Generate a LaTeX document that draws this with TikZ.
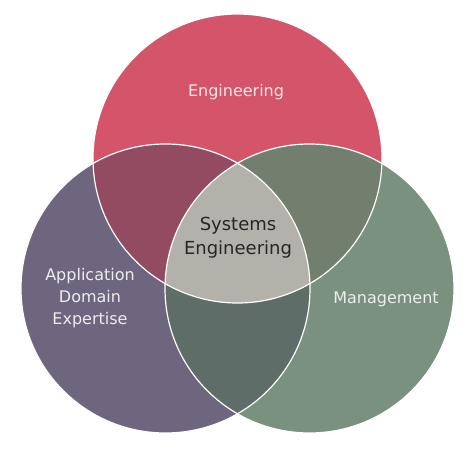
\documentclass[tikz,border=0pt]{standalone}
\usepackage{fontspec}
\setmainfont{DejaVu Sans}
\definecolor{engred}{HTML}{D45469}
\definecolor{apppurple}{HTML}{6D667E}
\definecolor{mgmtgreen}{HTML}{7A917F}
\definecolor{redpurple}{HTML}{934B62}
\definecolor{redgreen}{HTML}{727F6E}
\definecolor{purplegreen}{HTML}{5F6D69}
\definecolor{core}{HTML}{B3B2AA}
\tikzstyle{rim}=[draw=white, line width=1.2pt]
\tikzstyle{lbl}=[font=\fontsize{16}{22}\selectfont, align=center, inner sep=0]
\tikzstyle{corelbl}=[font=\fontsize{18}{24}\selectfont, align=center, inner sep=0, text=black!85]

\begin{document}
\begin{tikzpicture}[x=1pt,y=-1pt]
\useasboundingbox (0,0) rectangle (474,453);
\def\rad{144.5pt}
\coordinate (eng) at (237.5,158.5);
\coordinate (app) at (165.5,288.5);
\coordinate (mgmt) at (309.5,288.5);

\fill[engred] (eng) circle (\rad);
\fill[apppurple] (app) circle (\rad);
\fill[mgmtgreen] (mgmt) circle (\rad);
\begin{scope}
\clip (eng) circle (\rad);
\fill[redpurple] (app) circle (\rad);
\fill[redgreen] (mgmt) circle (\rad);
\end{scope}
\begin{scope}
\clip (app) circle (\rad);
\fill[purplegreen] (mgmt) circle (\rad);
\clip (mgmt) circle (\rad);
\fill[core] (eng) circle (\rad);
\end{scope}
\foreach \c in {eng,app,mgmt}
	\draw[rim] (\c) circle (\rad);

\node[lbl, text=white!85!engred] (englbl) at (236,92) {Engineering};
\node[lbl, text=white!88!apppurple] (applbl) at (90,298) {Application\\Domain\\Expertise};
\node[lbl, text=white!85!mgmtgreen] (mgmtlbl) at (386,299) {Management};
\node[corelbl] (corelbl) at (238,238) {Systems\\Engineering};
\end{tikzpicture}
\end{document}
